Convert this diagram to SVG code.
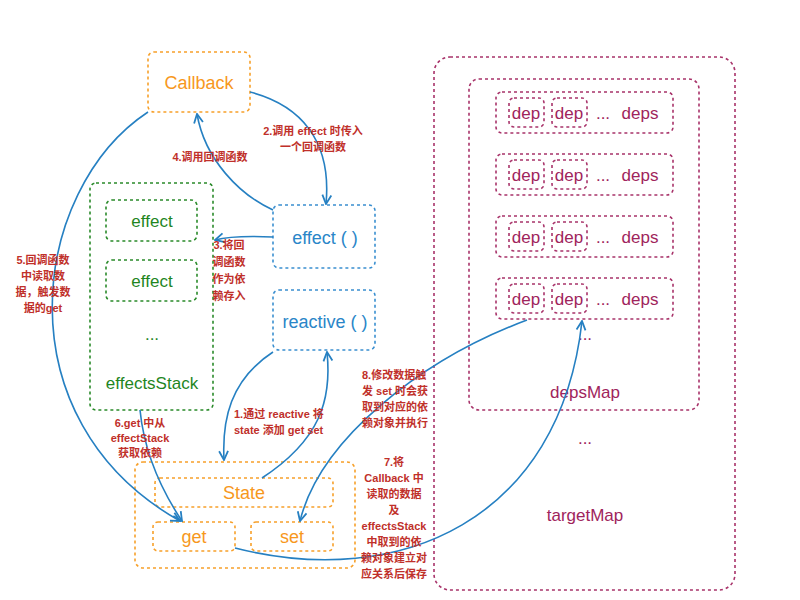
<svg xmlns="http://www.w3.org/2000/svg" width="800" height="600" viewBox="0 0 800 600">
<defs>
<marker id="ar" viewBox="0 0 10 10" refX="9" refY="5" markerWidth="7" markerHeight="7" orient="auto-start-reverse"><path d="M1,1 L9,5 L1,9" fill="none" stroke="#2680c2" stroke-width="1.6"/></marker>
<style>
rect{fill:none;stroke-width:1.6;stroke-dasharray:3 3}
.o{stroke:#f7a02a}.b{stroke:#3a8fd0}.g{stroke:#2a8a2a}.m{stroke:#a8336a}
text{font-family:"Liberation Sans","Noto Sans CJK SC",sans-serif;text-anchor:middle}
.to{fill:#f7981d;font-size:18px}.tb{fill:#2a86c8;font-size:18px}.tg{fill:#1f861f;font-size:17px}.tm{fill:#a0245c;font-size:17px}
.l{fill:#c0302a;font-size:11px;font-weight:bold}
.c path{fill:none;stroke:#2680c2;stroke-width:1.6}
</style>
</defs>
<rect width="800" height="600" fill="#fff" style="stroke:none"/>
<g id="targetMap"><rect class="m" x="434" y="57" width="301" height="533" rx="16"/><text class="tm" x="585" y="521">targetMap</text><text class="tm" x="585" y="444">...</text></g>
<g id="depsMap"><rect class="m" x="469" y="79" width="230" height="331" rx="10"/><text class="tm" x="585" y="398">depsMap</text><text class="tm" x="585" y="340">...</text></g>
<g id="row1"><rect class="m" x="496" y="92" width="177" height="41" rx="6"/><rect class="m" x="509" y="98" width="35" height="29" rx="5"/><rect class="m" x="552" y="98" width="35" height="29" rx="5"/><text class="tm" x="526" y="119">dep</text><text class="tm" x="569" y="119">dep</text><text class="tm" x="603" y="119">...</text><text class="tm" x="640" y="119">deps</text></g>
<g id="row2"><rect class="m" x="496" y="154" width="177" height="41" rx="6"/><rect class="m" x="509" y="160" width="35" height="29" rx="5"/><rect class="m" x="552" y="160" width="35" height="29" rx="5"/><text class="tm" x="526" y="181">dep</text><text class="tm" x="569" y="181">dep</text><text class="tm" x="603" y="181">...</text><text class="tm" x="640" y="181">deps</text></g>
<g id="row3"><rect class="m" x="496" y="216" width="177" height="41" rx="6"/><rect class="m" x="509" y="222" width="35" height="29" rx="5"/><rect class="m" x="552" y="222" width="35" height="29" rx="5"/><text class="tm" x="526" y="243">dep</text><text class="tm" x="569" y="243">dep</text><text class="tm" x="603" y="243">...</text><text class="tm" x="640" y="243">deps</text></g>
<g id="row4"><rect class="m" x="496" y="278" width="177" height="41" rx="6"/><rect class="m" x="509" y="284" width="35" height="29" rx="5"/><rect class="m" x="552" y="284" width="35" height="29" rx="5"/><text class="tm" x="526" y="305">dep</text><text class="tm" x="569" y="305">dep</text><text class="tm" x="603" y="305">...</text><text class="tm" x="640" y="305">deps</text></g>
<g id="callback"><rect class="o" x="148" y="52" width="102" height="60" rx="6"/><text class="to" x="199" y="89">Callback</text></g>
<g id="effectFn"><rect class="b" x="273" y="205" width="102" height="63" rx="6"/><text class="tb" x="325" y="244">effect ( )</text></g>
<g id="reactiveFn"><rect class="b" x="273" y="290" width="102" height="60" rx="6"/><text class="tb" x="325" y="328">reactive ( )</text></g>
<g id="effectsStack"><rect class="g" x="90" y="183" width="123" height="227" rx="6"/><rect class="g" x="106" y="200" width="91" height="41" rx="6"/><text class="tg" x="152" y="227">effect</text><rect class="g" x="106" y="260" width="91" height="41" rx="6"/><text class="tg" x="152" y="287">effect</text><text class="tg" x="152" y="340">...</text><text class="tg" x="152" y="389">effectsStack</text></g>
<g id="state"><rect class="o" x="135" y="462" width="220" height="106" rx="8"/><rect class="o" x="155" y="478" width="178" height="29" rx="5"/><text class="to" x="244" y="499">State</text><rect class="o" x="153" y="522" width="82" height="29" rx="5"/><text class="to" x="194" y="543">get</text><rect class="o" x="251" y="522" width="82" height="29" rx="5"/><text class="to" x="292" y="543">set</text></g>
<g class="c" id="connectors">
<path d="M250,92 C300,105 332,140 326,204" marker-end="url(#ar)"/>
<path d="M273,210 C240,195 205,160 197,114" marker-end="url(#ar)"/>
<path d="M273,237 C250,236 230,236 215,240" marker-end="url(#ar)"/>
<path d="M148,112 C30,190 0,420 180,521" marker-end="url(#ar)"/>
<path d="M140,410 C145,460 168,500 182,521" marker-end="url(#ar)"/>
<path d="M273,352 C230,380 222,420 224,460" marker-end="url(#ar)"/>
<path d="M262,478 C320,440 332,400 327,352" marker-end="url(#ar)"/>
<path d="M527,320 C420,360 320,440 300,521" marker-end="url(#ar)"/>
<path d="M235,548 C400,590 560,520 582,321" marker-end="url(#ar)"/>
</g>
<g id="labels">
<text class="l" x="313" y="135">2.调用 effect 时传入</text><text class="l" x="313" y="151">一个回调函数</text>
<text class="l" x="210" y="161">4.调用回调函数</text>
<g style="text-anchor:start"><text class="l" x="229" y="249" text-anchor="start">3.将回</text><text class="l" x="229" y="266" text-anchor="start">调函数</text><text class="l" x="229" y="283" text-anchor="start">作为依</text><text class="l" x="229" y="300" text-anchor="start">赖存入</text></g>
<text class="l" x="43" y="264">5.回调函数</text><text class="l" x="43" y="280">中读取数</text><text class="l" x="43" y="296">据，触发数</text><text class="l" x="43" y="312">据的get</text>
<text class="l" x="140" y="427">6.get 中从</text><text class="l" x="140" y="442">effectStack</text><text class="l" x="140" y="457">获取依赖</text>
<text class="l" x="234" y="418" style="text-anchor:start">1.通过 reactive 将</text><text class="l" x="234" y="434" style="text-anchor:start">state 添加 get set</text>
<text class="l" x="362" y="379" style="text-anchor:start">8.修改数据触</text><text class="l" x="362" y="395" style="text-anchor:start">发 set 时会获</text><text class="l" x="362" y="411" style="text-anchor:start">取到对应的依</text><text class="l" x="362" y="427" style="text-anchor:start">赖对象并执行</text>
<text class="l" x="394" y="466">7.将</text><text class="l" x="394" y="482">Callback 中</text><text class="l" x="394" y="498">读取的数据</text><text class="l" x="394" y="514">及</text><text class="l" x="394" y="530">effectsStack</text><text class="l" x="394" y="546">中取到的依</text><text class="l" x="394" y="562">赖对象建立对</text><text class="l" x="394" y="578">应关系后保存</text>
</g>
</svg>
